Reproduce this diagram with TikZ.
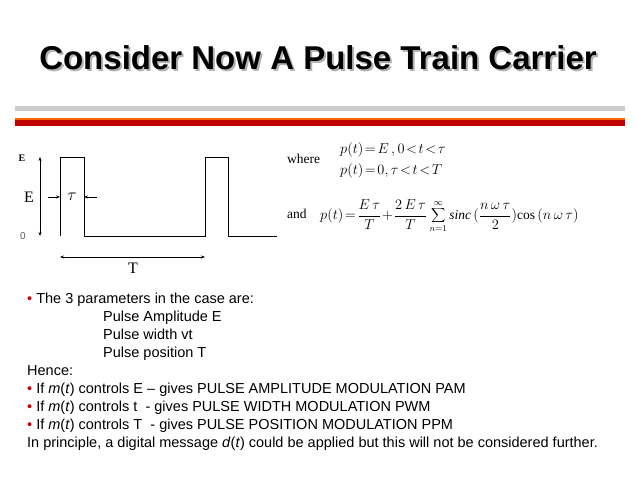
\documentclass[tikz,border=0pt]{standalone}
\usepackage{fontspec}
\setmainfont{Liberation Sans}
\newfontfamily\serif{Liberation Serif}
\usetikzlibrary{arrows.meta}
\begin{document}
\begin{tikzpicture}[x=1pt,y=-1pt,
  wave/.style={line width=0.8pt},
  dim/.style={line width=0.7pt,{Stealth[length=4pt]}-{Stealth[length=4pt]}},
  pt/.style={line width=0.7pt,-{Stealth[length=4pt]}},
  body/.style={anchor=base west,font=\fontsize{14.5}{16}\selectfont,inner sep=0pt},
  eq/.style={anchor=west,font=\serif\fontsize{13.5}{15}\selectfont,inner sep=0pt}]
\useasboundingbox[fill=white] (0,0) rectangle (638,478);
\node[font=\bfseries\fontsize{33}{38}\selectfont,text=gray!60] (tsh) at (320,60) {Consider Now A Pulse Train Carrier};
\node[font=\bfseries\fontsize{33}{38}\selectfont] (title) at (318,58) {Consider Now A Pulse Train Carrier};
\fill[gray!40] (15,106) rectangle (625,111);
\fill[red!75!black] (15,118) rectangle (625,126);
\fill[orange!80!red] (15,118) rectangle (625,120);
% waveform
\draw[wave] (60,236) -- (60,157) -- (84,157) -- (84,236) -- (205,236) -- (205,157) -- (228,157) -- (228,236) -- (277,236);
\coordinate (et) at (40,157); \coordinate (eb) at (40,236);
\draw[dim] (et) -- (eb);
\coordinate (ta1) at (48,197); \coordinate (ta2) at (60,197);
\coordinate (tb1) at (97,197); \coordinate (tb2) at (84,197);
\draw[pt] (ta1) -- (ta2);
\draw[pt] (tb1) -- (tb2);
\coordinate (T1) at (60,257); \coordinate (T2) at (205,257);
\draw[dim] (T1) -- (T2);
\node[font=\serif\bfseries\fontsize{10}{12}\selectfont] (lE) at (22,158) {E};
\node[font=\serif\fontsize{16}{18}\selectfont] (bE) at (29,197) {E};
\node[font=\fontsize{10}{12}\selectfont,text=gray!70!black] (l0) at (23,236) {0};
\node[font=\serif\fontsize{16}{18}\selectfont] (tau) at (72,197) {$\tau$};
\node[font=\serif\fontsize{16}{18}\selectfont] (lT) at (133,268) {T};
% equations
\node[eq] (where) at (287,159) {where};
\node[eq] (e1) at (340,150) {$p(t)\!=\!E\,,0\!<\!t\!<\!\tau$};
\node[eq] (e2) at (340,171) {$p(t)\!=\!0,\tau\!<\!t\!<\!T$};
\node[eq] (and) at (287,214) {and};
\node[eq] (e3) at (320,216) {$\displaystyle p(t)\!=\!\frac{E\,\tau}{T}\!+\!\frac{2\,E\,\tau}{T}\sum\limits_{n=1}^{\infty}\hbox{\serif\itshape sinc}\,(\frac{n\,\omega\,\tau}{2})\hbox{\serif cos}\,(n\,\omega\,\tau)$};
% body text
\node[body] (b1) at (27,304) {\textcolor{red!80!black}{\textbullet} The 3 parameters in the case are:};
\node[body] (b2) at (103,322) {Pulse Amplitude E};
\node[body] (b3) at (103,340) {Pulse width vt};
\node[body] (b4) at (103,358) {Pulse position T};
\node[body] (b5) at (27,376) {Hence:};
\node[body] (b6) at (27,394) {\textcolor{red!80!black}{\textbullet} If \textit{m}(\textit{t}) controls E -- gives PULSE AMPLITUDE MODULATION PAM};
\node[body] (b7) at (27,412) {\textcolor{red!80!black}{\textbullet} If \textit{m}(\textit{t}) controls t~ - gives PULSE WIDTH MODULATION PWM};
\node[body] (b8) at (27,430) {\textcolor{red!80!black}{\textbullet} If \textit{m}(\textit{t}) controls T~ - gives PULSE POSITION MODULATION PPM};
\node[body] (b9) at (27,448) {In principle, a digital message \textit{d}(\textit{t}) could be applied but this will not be considered further.};
\end{tikzpicture}
\end{document}
